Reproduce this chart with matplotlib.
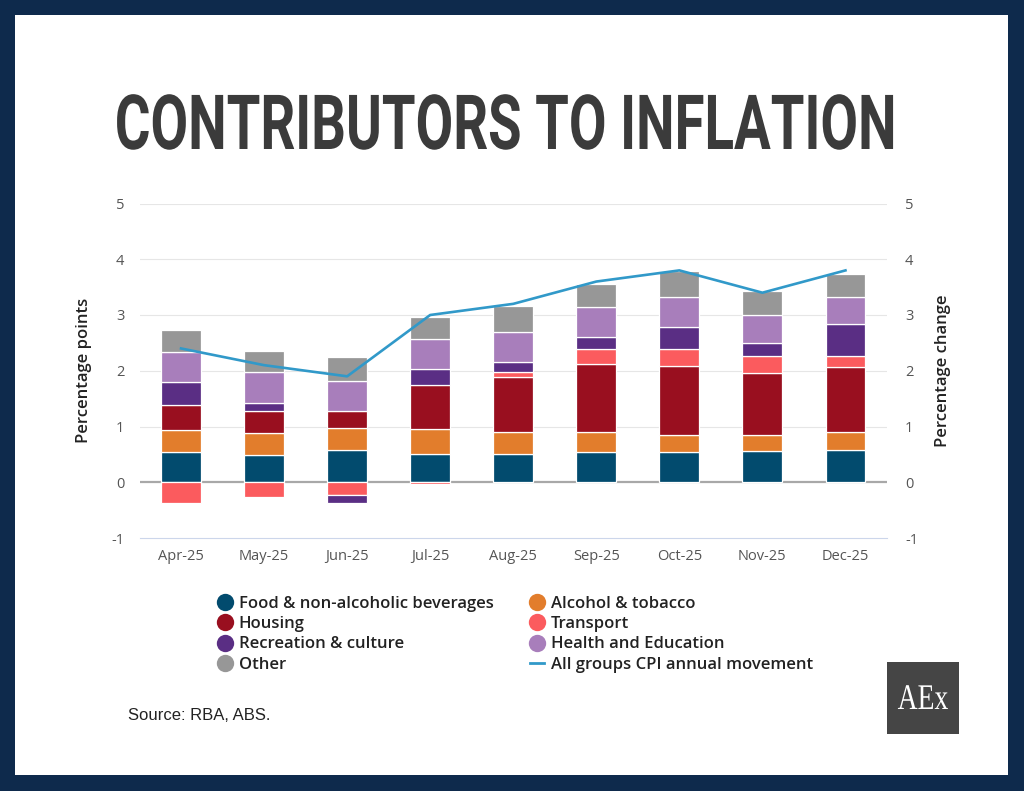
import matplotlib
matplotlib.use("Agg")
import matplotlib.pyplot as plt
import numpy as np
from matplotlib.lines import Line2D
from matplotlib.patches import Rectangle
from matplotlib.patheffects import AbstractPathEffect
from matplotlib.transforms import Affine2D

plt.rcParams["axes.unicode_minus"] = False

# values (percentage points)
MONTHS = ["Apr-25", "May-25", "Jun-25", "Jul-25", "Aug-25", "Sep-25", "Oct-25", "Nov-25", "Dec-25"]
food = [0.54, 0.48, 0.58, 0.51, 0.50, 0.54, 0.54, 0.56, 0.57]
alcohol = [0.39, 0.40, 0.39, 0.45, 0.40, 0.36, 0.30, 0.28, 0.34]
housing = [0.46, 0.40, 0.31, 0.79, 0.98, 1.22, 1.25, 1.12, 1.16]
transport = [-0.38, -0.27, -0.23, -0.04, 0.10, 0.27, 0.30, 0.31, 0.20]
recreation = [0.41, 0.15, -0.14, 0.29, 0.17, 0.22, 0.39, 0.22, 0.57]
health = [0.54, 0.54, 0.54, 0.53, 0.54, 0.54, 0.54, 0.51, 0.48]
other = [0.39, 0.38, 0.42, 0.40, 0.47, 0.41, 0.47, 0.43, 0.42]
cpi = [2.4, 2.1, 1.9, 3.0, 3.2, 3.6, 3.8, 3.4, 3.8]  # all groups CPI, % change

SERIES = [
    ("Food & non-alcoholic beverages", food, "#024b6e"),
    ("Alcohol & tobacco", alcohol, "#e27d2c"),
    ("Housing", housing, "#990f1f"),
    ("Transport", transport, "#fb5b5e"),
    ("Recreation & culture", recreation, "#5a2e84"),
    ("Health and Education", health, "#a87ebb"),
    ("Other", other, "#979797"),
]
LINE_COLOR = "#3199c9"
TEXT_FONT = ["Open Sans", "DejaVu Sans"]


class FitText(AbstractPathEffect):
    """Stretch the glyph path to a given width (px) and scale it vertically about the baseline
    - stands in for the condensed display fonts that are not installed."""
    def __init__(self, width_px, sy=1.0):
        super().__init__()
        self.width_px = width_px
        self.sy = sy

    def draw_path(self, renderer, gc, tpath, affine, rgbFace=None):
        ext = tpath.get_extents(affine)
        cx = (ext.x0 + ext.x1) / 2
        base_y = affine.transform((0, 0))[1]
        sx = self.width_px / ext.width
        affine = affine + Affine2D().translate(-cx, -base_y).scale(sx, self.sy).translate(cx, base_y)
        renderer.draw_path(gc, tpath, affine, rgbFace)


W, H = 1024, 791
fig = plt.figure(figsize=(W / 100, H / 100), dpi=100, facecolor="#0e2a4c")
fig.patches.append(Rectangle((15 / W, 16 / H), 993 / W, 760 / H, transform=fig.transFigure,
                             facecolor="white", edgecolor="none", zorder=-5))

ax = fig.add_axes([139.5 / W, 253 / H, 747.5 / W, 334.5 / H])
ax.set_facecolor("none")
x = np.arange(len(MONTHS))
pos = np.zeros(len(MONTHS))
neg = np.zeros(len(MONTHS))
for name, vals, col in SERIES:
    v = np.array(vals)
    bottom = np.where(v >= 0, pos, neg)
    ax.bar(x, v, bottom=bottom, width=0.48, color=col, edgecolor="white", linewidth=0.9, zorder=3)
    pos = np.where(v >= 0, pos + v, pos)
    neg = np.where(v < 0, neg + v, neg)

ax.axhline(0, color="#a8a8a8", linewidth=1.6, zorder=2)
ax.set_xlim(-0.5, 8.5)
ax.set_ylim(-1, 5)
ax.set_yticks(range(-1, 6))
ax.set_xticks(x)
ax.set_xticklabels(MONTHS)
for yv in range(1, 6):
    ax.axhline(yv, color="#e6e6e6", linewidth=0.8, zorder=1)
for s in ["top", "right", "left"]:
    ax.spines[s].set_visible(False)
ax.spines["bottom"].set_color("#ccd6eb")
ax.spines["bottom"].set_linewidth(0.8)
ax.tick_params(axis="both", length=0, labelcolor="#555555", labelsize=10.5)
ax.tick_params(axis="x", pad=8)
ax.tick_params(axis="y", pad=11)
for lab in ax.get_xticklabels() + ax.get_yticklabels():
    lab.set_family(TEXT_FONT)
ax.set_ylabel("Percentage points", family=TEXT_FONT, fontsize=12, fontweight="semibold", color="#222222")
ax.yaxis.set_label_coords(-0.063, 0.5)

ax2 = ax.twinx()
ax2.set_ylim(-1, 5)
ax2.set_yticks(range(-1, 6))
for s in ax2.spines.values():
    s.set_visible(False)
ax2.tick_params(axis="y", length=0, labelcolor="#555555", labelsize=10.5, pad=13)
for lab in ax2.get_yticklabels():
    lab.set_family(TEXT_FONT)
ax2.plot(x, cpi, color=LINE_COLOR, linewidth=1.9, zorder=5)
ax2.set_ylabel("Percentage change", family=TEXT_FONT, fontsize=12, fontweight="semibold", color="#222222")
ax2.yaxis.set_label_coords(1.064, 0.5)

# legend: column-wise fill gives the two-column layout of the reference
order = [0, 2, 4, 6, 1, 3, 5]
handles = [Line2D([], [], marker="o", linestyle="none", markersize=12.5,
                  markerfacecolor=SERIES[i][2], markeredgecolor="none") for i in order]
labels = [SERIES[i][0] for i in order]
handles.append(Line2D([], [], color=LINE_COLOR, linewidth=2))
labels.append("All groups CPI annual movement")
fig.legend(handles, labels, ncol=2, loc="upper left", bbox_to_anchor=(218 / W, 1 - 595.5 / H),
           frameon=False, borderpad=0, borderaxespad=0, handlelength=0.8, handletextpad=0.45,
           labelspacing=0.27, columnspacing=2.2,
           prop={"family": TEXT_FONT, "size": 12, "weight": "semibold"}, labelcolor="#222222")

fig.text(505 / W, 1 - 149 / H, "CONTRIBUTORS TO INFLATION", ha="center", va="baseline",
         family=["Roboto", "DejaVu Sans"], fontweight="bold", fontsize=37, color="#3b3b3b",
         path_effects=[FitText(776, 1.48)])

fig.text(128 / W, 1 - 716 / H, "Source: RBA, ABS.", ha="left", va="center",
         family=["Liberation Sans", "DejaVu Sans"], fontsize=12, color="#222222")

fig.patches.append(Rectangle((887 / W, 1 - 734 / H), 72 / W, 72 / H, transform=fig.transFigure,
                             facecolor="#454545", edgecolor="none", zorder=1))
fig.text(923 / W, 1 - 709 / H, "AEx", ha="center", va="baseline", color="white",
         family=["Liberation Serif", "DejaVu Serif"], fontsize=26, path_effects=[FitText(50)])

fig.savefig("out.png", dpi=100, facecolor=fig.get_facecolor())
